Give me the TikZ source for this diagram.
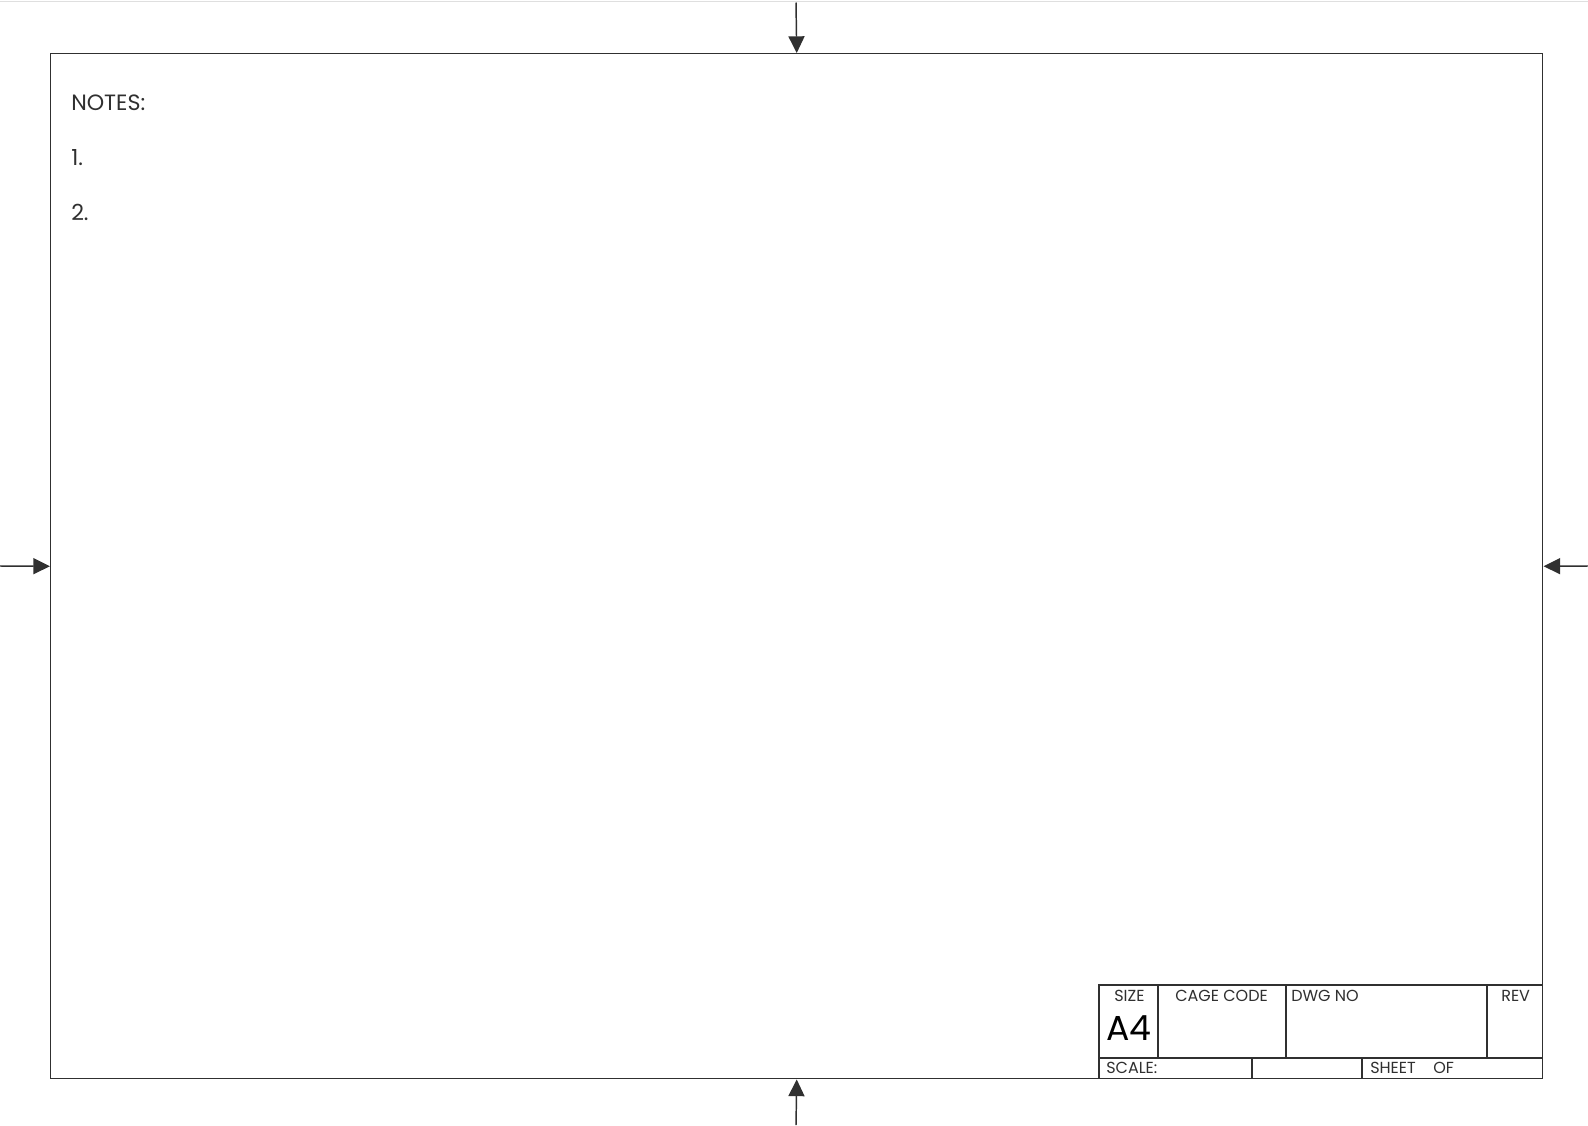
\documentclass[tikz,border=0pt]{standalone}
\usepackage{fontspec}
\setmainfont{Poppins}
\usetikzlibrary{arrows.meta}
\definecolor{ink}{HTML}{303030}
\begin{document}
\begin{tikzpicture}[x=0.75pt,y=-0.75pt,
  line/.style={draw=ink,line width=1.1pt},
  arr/.style={draw=ink,line width=1.1pt,-{Triangle[length=12.5pt,width=12pt]}},
  lbl/.style={inner sep=0pt,anchor=base west,text=ink,font=\fontsize{16.6}{18}\selectfont},
  small/.style={inner sep=0pt,anchor=base west,text=ink,font=\fontsize{12}{13}\selectfont},
  big/.style={inner sep=0pt,anchor=base west,text=black,font=\fontsize{26}{28}\selectfont}]
\useasboundingbox (0,0) rectangle (1588,1125);
\fill[white] (0,0) rectangle (1588,1125);
\draw[gray!25,line width=1.2pt] (0,1.5) -- (1588,1.5);
% frame
\node[line,rectangle,inner sep=0pt,minimum width=1119pt,minimum height=768.75pt,anchor=north west] (frame) at (50,53) {};
% centering arrows
\coordinate (ctop) at (796,2.5);
\coordinate (cbot) at (796,1125);
\coordinate (cleft) at (0,566);
\coordinate (cright) at (1588,566);
\draw[arr] (ctop) -- (frame.north);
\draw[arr] (cbot) -- (frame.south);
\draw[arr] (cleft) -- (frame.west);
\draw[arr] (cright) -- (frame.east);
% notes
\node[lbl] (notes) at (71,110) {NOTES:};
\node[lbl] (n1) at (71,165) {1.};
\node[lbl] (n2) at (71,220) {2.};
% title block
\draw[line] (1099,1078) -- (1099,985) -- (1542,985);
\draw[line] (1099,1058) -- (1542,1058);
\draw[line] (1158,985) -- (1158,1058);
\draw[line] (1286,985) -- (1286,1058);
\draw[line] (1487,985) -- (1487,1058);
\draw[line] (1252,1058) -- (1252,1078);
\draw[line] (1362,1058) -- (1362,1078);
\node[small] (size) at (1114,1001) {SIZE};
\node[small] (cage) at (1175,1001) {CAGE CODE};
\node[small] (dwg) at (1291,1001) {DWG NO};
\node[small] (rev) at (1501,1001) {REV};
\node[big] (a4) at (1106,1040) {A4};
\node[small] (scale) at (1106,1073) {SCALE:};
\node[small] (sheet) at (1370,1073) {SHEET\hspace{1.1em}OF};
\end{tikzpicture}
\end{document}
